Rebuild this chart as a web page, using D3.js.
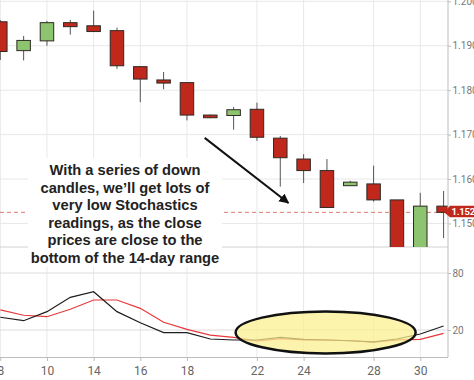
<!DOCTYPE html>
<html><head><meta charset="utf-8">
<script src="https://cdn.jsdelivr.net/npm/d3@7"></script>
<style>html,body{margin:0;padding:0;background:#fff;overflow:hidden}svg{display:block}</style>
</head><body>
<script>
// ---- data ----
const days   = ["8","9","10","11","14","15","16","17","18","19","21","22","23","24","25","27","28","29","30","31"];
const open   = [1.1954,1.1889,1.1911,1.1952,1.1945,1.1934,1.1853,1.1823,1.1817,1.1744,1.1743,1.1757,1.1692,1.1645,1.1619,1.1585,1.1589,1.1553,1.1440,1.1539];
const high   = [1.1958,1.1922,1.1956,1.1958,1.1979,1.1941,1.1853,1.1841,1.1818,1.1745,1.1762,1.1772,1.1697,1.1656,1.1645,1.1596,1.1630,1.1553,1.1569,1.1573];
const low    = [1.1868,1.1867,1.1900,1.1925,1.1931,1.1848,1.1773,1.1802,1.1732,1.1737,1.1711,1.1686,1.1583,1.1591,1.1536,1.1585,1.1549,1.1440,1.1440,1.1467];
const close  = [1.1887,1.1912,1.1952,1.1943,1.1932,1.1855,1.1825,1.1816,1.1744,1.1738,1.1756,1.1694,1.1648,1.1619,1.1536,1.1593,1.1553,1.1440,1.1539,1.1525];
const stochK = [33.4,29.8,39.3,54.4,60.3,39.3,27.7,17.2,17.2,10.5,9.5,9.5,12.3,10.2,9.5,8.7,7.4,10.5,15.8,24.2];
const stochD = [41.1,35.5,34.0,41.8,51.6,51.6,42.8,28.1,20.7,14.7,12.3,8.4,10.8,9.7,9.5,8.7,7.1,9.5,10.2,16.5];
const xTickDays   = ["8","10","14","16","18","22","24","28","30"];
const priceTicks  = [1.200,1.190,1.180,1.170,1.160,1.150];
const stochTicks  = [80,20];
const lastPrice   = 1.1525;
const lastLabel   = "1.152";
const noteLines   = ["With a series of down","candles, we\u2019ll get lots of","very low Stochastics","readings, as the close","prices are close to the","bottom of the 14-day range"];

// ---- layout ----
const W = 474, H = 380;
const plotR = 448, mainTop = 0, mainBot = 247, lowBot = 357;
const svg = d3.select("body").append("svg").attr("width", W).attr("height", H);

const x = d3.scaleLinear().domain([0, days.length - 1]).range([0.3, 443.6]);
const y = d3.scaleLinear().domain([1.1447, 1.2003]).range([mainBot, mainTop]);
const ys = d3.scaleLinear().domain([20, 80]).range([330, 273]);
const idx = d => days.indexOf(d);

const grid = "#e8e8e8", axisCol = "#bdbdbd", txt = "#777";

// vertical gridlines
svg.append("g").selectAll("line").data(xTickDays).join("line")
  .attr("x1", d => x(idx(d))).attr("x2", d => x(idx(d)))
  .attr("y1", 0).attr("y2", lowBot).attr("stroke", grid).attr("stroke-width", 1);
// horizontal gridlines price
svg.append("g").selectAll("line").data(priceTicks).join("line")
  .attr("x1", 0).attr("x2", plotR).attr("y1", d => y(d)).attr("y2", d => y(d))
  .attr("stroke", grid);
// stoch gridlines
svg.append("g").selectAll("line").data(stochTicks).join("line")
  .attr("x1", 0).attr("x2", plotR).attr("y1", d => ys(d)).attr("y2", d => ys(d))
  .attr("stroke", "#dcdcdc");
// panel divider
svg.append("line").attr("x1", 0).attr("x2", plotR).attr("y1", mainBot).attr("y2", mainBot).attr("stroke", "#d2d2d2");

// current price dashed line
svg.append("line").attr("x1", 0).attr("x2", plotR).attr("y1", y(lastPrice)).attr("y2", y(lastPrice))
  .attr("stroke", "#e07a70").attr("stroke-dasharray", "4,3").attr("stroke-width", 1);

// clip for main panel
svg.append("clipPath").attr("id", "mainclip").append("rect")
  .attr("x", -10).attr("y", mainTop).attr("width", plotR + 10).attr("height", mainBot - mainTop);

const candles = svg.append("g").attr("clip-path", "url(#mainclip)");
const idxs = d3.range(days.length);
candles.selectAll("line.w").data(idxs).join("line").attr("class", "w")
  .attr("x1", i => x(i)).attr("x2", i => x(i))
  .attr("y1", i => y(high[i])).attr("y2", i => y(low[i]))
  .attr("stroke", "#555").attr("stroke-width", 1);
const bw = 13.5;
candles.selectAll("rect").data(idxs).join("rect")
  .attr("x", i => x(i) - bw / 2).attr("width", bw)
  .attr("y", i => y(Math.max(open[i], close[i])))
  .attr("height", i => Math.max(1.5, Math.abs(y(open[i]) - y(close[i]))))
  .attr("fill", i => close[i] >= open[i] ? "#8dc46f" : "#c0281b")
  .attr("stroke", "#2e2a24").attr("stroke-width", 1);

// stochastic lines
const line = arr => d3.line().x((d, i) => x(i)).y(d => ys(d))(arr);
svg.append("path").attr("d", line(stochD)).attr("fill", "none").attr("stroke", "#e8383a").attr("stroke-width", 1.2);
svg.append("path").attr("d", line(stochK)).attr("fill", "none").attr("stroke", "#1e1e1e").attr("stroke-width", 1.2);

// ellipse highlight
svg.append("ellipse").attr("cx", x(14) - 1.3).attr("cy", ys(17.4)).attr("rx", 90).attr("ry", 21)
  .attr("fill", "#fbee8c").attr("fill-opacity", 0.72).attr("stroke", "#111").attr("stroke-width", 2.5);

// right axis
svg.append("line").attr("x1", plotR).attr("x2", plotR).attr("y1", 0).attr("y2", lowBot).attr("stroke", axisCol);
const ra = svg.append("g").attr("transform", `translate(${plotR},0)`)
  .call(d3.axisRight(y).tickValues(priceTicks).tickFormat(d3.format(".3f")).tickSize(3).tickPadding(1.5));
const rb = svg.append("g").attr("transform", `translate(${plotR},0)`)
  .call(d3.axisRight(ys).tickValues(stochTicks).tickSize(3).tickPadding(1.5));
[ra, rb].forEach(g => {
  g.select(".domain").remove();
  g.selectAll(".tick line").attr("stroke", axisCol);
  g.selectAll(".tick text").attr("fill", txt).style("font", "10px Roboto, sans-serif");
});

// bottom axis
const bx = svg.append("g").attr("transform", `translate(0,${lowBot})`)
  .call(d3.axisBottom(x).tickValues(xTickDays.map(idx)).tickFormat(i => days[i]).tickSize(4).tickPadding(5));
bx.select(".domain").attr("stroke", axisCol).attr("d", `M0,0.5H${plotR}`);
bx.selectAll(".tick line").attr("stroke", axisCol);
bx.selectAll(".tick text").attr("fill", "#666").style("font", "12px Roboto, sans-serif");

// price tag
const ty = y(lastPrice);
svg.append("path")
  .attr("d", `M444,${ty} L450,${ty - 6.5} L474,${ty - 6.5} L474,${ty + 5} L450,${ty + 5} Z`)
  .attr("fill", "#c0281b");
svg.append("text").attr("x", 451.5).attr("y", ty + 3).text(lastLabel)
  .attr("fill", "#fff").style("font", "bold 9.5px Roboto, sans-serif").style("letter-spacing", "-0.2px");

// annotation box + text
svg.append("rect").attr("x", 28).attr("y", 158).attr("width", 194).attr("height", 109).attr("fill", "#fff");
svg.append("g").selectAll("text").data(noteLines).join("text")
  .attr("x", 125).attr("y", (d, i) => 175 + i * 17.5)
  .attr("text-anchor", "middle").attr("fill", "#222")
  .style("font", "bold 14.7px 'Liberation Sans', Arial, sans-serif")
  .text(d => d);

// arrow
svg.append("defs").append("marker").attr("id", "ah").attr("viewBox", "0 0 10 10")
  .attr("refX", 9).attr("refY", 5).attr("markerWidth", 5).attr("markerHeight", 5)
  .attr("orient", "auto").append("path").attr("d", "M0,0 L10,5 L0,10 Z").attr("fill", "#111");
svg.append("line")
  .attr("x1", x(8.76)).attr("y1", y(1.16926)).attr("x2", x(12.35)).attr("y2", y(1.15462))
  .attr("stroke", "#111").attr("stroke-width", 2).attr("marker-end", "url(#ah)");
</script>
</body></html>
